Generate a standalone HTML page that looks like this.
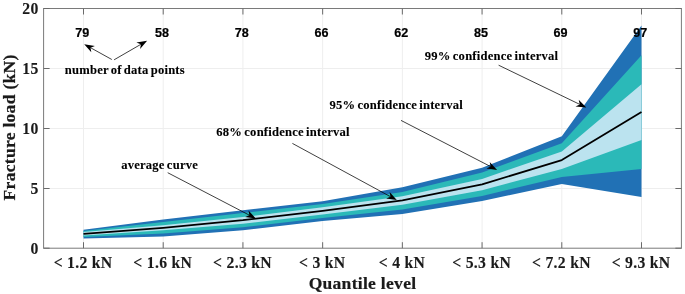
<!DOCTYPE html>
<html><head><meta charset="utf-8"><title>Fracture load chart</title>
<style>html,body{margin:0;padding:0;background:#fff}svg{display:block}</style></head>
<body>
<svg width="685" height="294" viewBox="0 0 685 294">
<rect width="685" height="294" fill="#fff"/>
<line x1="83.5" y1="8.5" x2="83.5" y2="248.2" stroke="#eeeeee" stroke-width="1"/>
<line x1="163.214" y1="8.5" x2="163.214" y2="248.2" stroke="#eeeeee" stroke-width="1"/>
<line x1="242.928" y1="8.5" x2="242.928" y2="248.2" stroke="#eeeeee" stroke-width="1"/>
<line x1="322.642" y1="8.5" x2="322.642" y2="248.2" stroke="#eeeeee" stroke-width="1"/>
<line x1="402.356" y1="8.5" x2="402.356" y2="248.2" stroke="#eeeeee" stroke-width="1"/>
<line x1="482.07" y1="8.5" x2="482.07" y2="248.2" stroke="#eeeeee" stroke-width="1"/>
<line x1="561.784" y1="8.5" x2="561.784" y2="248.2" stroke="#eeeeee" stroke-width="1"/>
<line x1="641.498" y1="8.5" x2="641.498" y2="248.2" stroke="#eeeeee" stroke-width="1"/>
<line x1="43.6" y1="68.5" x2="681.4" y2="68.5" stroke="#eeeeee" stroke-width="1"/>
<line x1="43.6" y1="128.5" x2="681.4" y2="128.5" stroke="#eeeeee" stroke-width="1"/>
<line x1="43.6" y1="188.5" x2="681.4" y2="188.5" stroke="#eeeeee" stroke-width="1"/>
<polygon points="83.5,229.7 163.2,219.4 242.9,210.3 322.6,201.2 402.4,187.3 482.1,167.7 561.8,136.2 641.5,25.6 641.5,197.0 561.8,183.9 482.1,201.1 402.4,214.0 322.6,221.0 242.9,230.3 163.2,236.4 83.5,238.4" fill="#2171b5"/>
<polygon points="83.5,230.9 163.2,222.0 242.9,213.1 322.6,204.1 402.4,192.0 482.1,172.6 561.8,143.2 641.5,55.3 641.5,169.0 561.8,177.0 482.1,195.9 402.4,209.4 322.6,217.9 242.9,227.3 163.2,233.6 83.5,237.0" fill="#2bb9b8"/>
<polygon points="83.5,232.1 163.2,225.2 242.9,217.0 322.6,207.3 402.4,196.3 482.1,178.9 561.8,151.5 641.5,84.3 641.5,140.0 561.8,168.9 482.1,190.2 402.4,204.8 322.6,214.5 242.9,223.8 163.2,230.3 83.5,235.4" fill="#bbe3ef"/>
<polyline points="83.5,233.9 163.2,227.8 242.9,220.2 322.6,210.8 402.4,200.3 482.1,184.4 561.8,160.1 641.5,112.0" fill="none" stroke="#000" stroke-width="1.75" stroke-linejoin="round"/>
<rect x="43.6" y="8.5" width="637.8" height="239.7" fill="none" stroke="#7a7a7a" stroke-width="1"/>
<line x1="83.5" y1="248.2" x2="83.5" y2="242.2" stroke="#6a6a6a" stroke-width="1"/>
<line x1="83.5" y1="8.5" x2="83.5" y2="14.5" stroke="#6a6a6a" stroke-width="1"/>
<line x1="163.214" y1="248.2" x2="163.214" y2="242.2" stroke="#6a6a6a" stroke-width="1"/>
<line x1="163.214" y1="8.5" x2="163.214" y2="14.5" stroke="#6a6a6a" stroke-width="1"/>
<line x1="242.928" y1="248.2" x2="242.928" y2="242.2" stroke="#6a6a6a" stroke-width="1"/>
<line x1="242.928" y1="8.5" x2="242.928" y2="14.5" stroke="#6a6a6a" stroke-width="1"/>
<line x1="322.642" y1="248.2" x2="322.642" y2="242.2" stroke="#6a6a6a" stroke-width="1"/>
<line x1="322.642" y1="8.5" x2="322.642" y2="14.5" stroke="#6a6a6a" stroke-width="1"/>
<line x1="402.356" y1="248.2" x2="402.356" y2="242.2" stroke="#6a6a6a" stroke-width="1"/>
<line x1="402.356" y1="8.5" x2="402.356" y2="14.5" stroke="#6a6a6a" stroke-width="1"/>
<line x1="482.07" y1="248.2" x2="482.07" y2="242.2" stroke="#6a6a6a" stroke-width="1"/>
<line x1="482.07" y1="8.5" x2="482.07" y2="14.5" stroke="#6a6a6a" stroke-width="1"/>
<line x1="561.784" y1="248.2" x2="561.784" y2="242.2" stroke="#6a6a6a" stroke-width="1"/>
<line x1="561.784" y1="8.5" x2="561.784" y2="14.5" stroke="#6a6a6a" stroke-width="1"/>
<line x1="641.498" y1="248.2" x2="641.498" y2="242.2" stroke="#6a6a6a" stroke-width="1"/>
<line x1="641.498" y1="8.5" x2="641.498" y2="14.5" stroke="#6a6a6a" stroke-width="1"/>
<line x1="43.6" y1="8.5" x2="49.6" y2="8.5" stroke="#6a6a6a" stroke-width="1"/>
<line x1="681.4" y1="8.5" x2="675.4" y2="8.5" stroke="#6a6a6a" stroke-width="1"/>
<line x1="43.6" y1="68.5" x2="49.6" y2="68.5" stroke="#6a6a6a" stroke-width="1"/>
<line x1="681.4" y1="68.5" x2="675.4" y2="68.5" stroke="#6a6a6a" stroke-width="1"/>
<line x1="43.6" y1="128.5" x2="49.6" y2="128.5" stroke="#6a6a6a" stroke-width="1"/>
<line x1="681.4" y1="128.5" x2="675.4" y2="128.5" stroke="#6a6a6a" stroke-width="1"/>
<line x1="43.6" y1="188.5" x2="49.6" y2="188.5" stroke="#6a6a6a" stroke-width="1"/>
<line x1="681.4" y1="188.5" x2="675.4" y2="188.5" stroke="#6a6a6a" stroke-width="1"/>
<line x1="43.6" y1="248.2" x2="49.6" y2="248.2" stroke="#6a6a6a" stroke-width="1"/>
<line x1="681.4" y1="248.2" x2="675.4" y2="248.2" stroke="#6a6a6a" stroke-width="1"/>
<text x="38.6" y="14" font-size="15.7" text-anchor="end" font-family="Liberation Serif, serif" font-weight="bold" fill="#1a1a1a" letter-spacing="0.3" stroke="#1a1a1a" stroke-width="0.1">20</text>
<text x="38.6" y="74" font-size="15.7" text-anchor="end" font-family="Liberation Serif, serif" font-weight="bold" fill="#1a1a1a" letter-spacing="0.3" stroke="#1a1a1a" stroke-width="0.1">15</text>
<text x="38.6" y="134" font-size="15.7" text-anchor="end" font-family="Liberation Serif, serif" font-weight="bold" fill="#1a1a1a" letter-spacing="0.3" stroke="#1a1a1a" stroke-width="0.1">10</text>
<text x="38.6" y="194" font-size="15.7" text-anchor="end" font-family="Liberation Serif, serif" font-weight="bold" fill="#1a1a1a" letter-spacing="0.3" stroke="#1a1a1a" stroke-width="0.1">5</text>
<text x="38.6" y="254" font-size="15.7" text-anchor="end" font-family="Liberation Serif, serif" font-weight="bold" fill="#1a1a1a" letter-spacing="0.3" stroke="#1a1a1a" stroke-width="0.1">0</text>
<text x="83.1" y="268" font-size="15.7" text-anchor="middle" font-family="Liberation Serif, serif" font-weight="bold" fill="#1a1a1a" letter-spacing="0.3" stroke="#1a1a1a" stroke-width="0.1">&lt; 1.2 kN</text>
<text x="162.8" y="268" font-size="15.7" text-anchor="middle" font-family="Liberation Serif, serif" font-weight="bold" fill="#1a1a1a" letter-spacing="0.3" stroke="#1a1a1a" stroke-width="0.1">&lt; 1.6 kN</text>
<text x="242.5" y="268" font-size="15.7" text-anchor="middle" font-family="Liberation Serif, serif" font-weight="bold" fill="#1a1a1a" letter-spacing="0.3" stroke="#1a1a1a" stroke-width="0.1">&lt; 2.3 kN</text>
<text x="322.2" y="268" font-size="15.7" text-anchor="middle" font-family="Liberation Serif, serif" font-weight="bold" fill="#1a1a1a" letter-spacing="0.3" stroke="#1a1a1a" stroke-width="0.1">&lt; 3 kN</text>
<text x="402.0" y="268" font-size="15.7" text-anchor="middle" font-family="Liberation Serif, serif" font-weight="bold" fill="#1a1a1a" letter-spacing="0.3" stroke="#1a1a1a" stroke-width="0.1">&lt; 4 kN</text>
<text x="481.7" y="268" font-size="15.7" text-anchor="middle" font-family="Liberation Serif, serif" font-weight="bold" fill="#1a1a1a" letter-spacing="0.3" stroke="#1a1a1a" stroke-width="0.1">&lt; 5.3 kN</text>
<text x="561.4" y="268" font-size="15.7" text-anchor="middle" font-family="Liberation Serif, serif" font-weight="bold" fill="#1a1a1a" letter-spacing="0.3" stroke="#1a1a1a" stroke-width="0.1">&lt; 7.2 kN</text>
<text x="641.1" y="268" font-size="15.7" text-anchor="middle" font-family="Liberation Serif, serif" font-weight="bold" fill="#1a1a1a" letter-spacing="0.3" stroke="#1a1a1a" stroke-width="0.1">&lt; 9.3 kN</text>
<text x="362.5" y="288.6" font-size="17.5" text-anchor="middle" font-family="Liberation Serif, serif" font-weight="bold" fill="#1a1a1a" letter-spacing="0.3" stroke="#1a1a1a" stroke-width="0.22">Quantile level</text>
<text transform="translate(14.8,127.4) rotate(-90)" font-size="17.5" text-anchor="middle" font-family="Liberation Serif, serif" font-weight="bold" fill="#1a1a1a" letter-spacing="0.3" stroke="#1a1a1a" stroke-width="0.22">Fracture load (kN)</text>
<text x="82.3" y="37.2" font-size="12.6" text-anchor="middle" font-family="Liberation Sans, sans-serif" font-weight="bold" fill="#000" stroke="#000" stroke-width="0.2">79</text>
<text x="162.0" y="37.2" font-size="12.6" text-anchor="middle" font-family="Liberation Sans, sans-serif" font-weight="bold" fill="#000" stroke="#000" stroke-width="0.2">58</text>
<text x="241.7" y="37.2" font-size="12.6" text-anchor="middle" font-family="Liberation Sans, sans-serif" font-weight="bold" fill="#000" stroke="#000" stroke-width="0.2">78</text>
<text x="321.4" y="37.2" font-size="12.6" text-anchor="middle" font-family="Liberation Sans, sans-serif" font-weight="bold" fill="#000" stroke="#000" stroke-width="0.2">66</text>
<text x="401.2" y="37.2" font-size="12.6" text-anchor="middle" font-family="Liberation Sans, sans-serif" font-weight="bold" fill="#000" stroke="#000" stroke-width="0.2">62</text>
<text x="480.9" y="37.2" font-size="12.6" text-anchor="middle" font-family="Liberation Sans, sans-serif" font-weight="bold" fill="#000" stroke="#000" stroke-width="0.2">85</text>
<text x="560.6" y="37.2" font-size="12.6" text-anchor="middle" font-family="Liberation Sans, sans-serif" font-weight="bold" fill="#000" stroke="#000" stroke-width="0.2">69</text>
<text x="640.3" y="37.2" font-size="12.6" text-anchor="middle" font-family="Liberation Sans, sans-serif" font-weight="bold" fill="#000" stroke="#000" stroke-width="0.2">97</text>
<text x="64.8" y="73.6" font-size="12.6" font-family="Liberation Serif, serif" font-weight="bold" fill="#000" stroke="#000" stroke-width="0.1" letter-spacing="0.22" word-spacing="-1.2">number of data points</text>
<text x="121.2" y="168.7" font-size="12.6" font-family="Liberation Serif, serif" font-weight="bold" fill="#000" stroke="#000" stroke-width="0.1" letter-spacing="0.22" word-spacing="-1.2">average curve</text>
<text x="216.3" y="135.5" font-size="12.6" font-family="Liberation Serif, serif" font-weight="bold" fill="#000" stroke="#000" stroke-width="0.1" letter-spacing="0.22" word-spacing="-1.2">68% confidence interval</text>
<text x="329.5" y="109" font-size="12.6" font-family="Liberation Serif, serif" font-weight="bold" fill="#000" stroke="#000" stroke-width="0.1" letter-spacing="0.22" word-spacing="-1.2">95% confidence interval</text>
<text x="424.8" y="60" font-size="12.6" font-family="Liberation Serif, serif" font-weight="bold" fill="#000" stroke="#000" stroke-width="0.1" letter-spacing="0.22" word-spacing="-1.2">99% confidence interval</text>
<line x1="111.8" y1="59.5" x2="90.5" y2="47.7" stroke="#000" stroke-width="0.75"/><polygon points="84.2,44.2 94.9,45.9 90.5,47.7 91.3,52.3" fill="#000"/>
<line x1="114.1" y1="59.8" x2="140.9" y2="44.3" stroke="#000" stroke-width="0.75"/><polygon points="147.1,40.8 140.1,49.1 140.9,44.3 136.4,42.6" fill="#000"/>
<line x1="167.7" y1="172.7" x2="249.4" y2="215.2" stroke="#000" stroke-width="0.75"/><polygon points="255.8,218.5 245.1,217.1 249.4,215.2 248.5,210.5" fill="#000"/>
<line x1="292.4" y1="143.4" x2="390.5" y2="196.7" stroke="#000" stroke-width="0.75"/><polygon points="396.8,200.1 386.1,198.5 390.5,196.7 389.6,192.0" fill="#000"/>
<line x1="401.0" y1="120.4" x2="490.7" y2="166.6" stroke="#000" stroke-width="0.75"/><polygon points="497.1,169.9 486.4,168.5 490.7,166.6 489.7,162.0" fill="#000"/>
<line x1="498.6" y1="65.2" x2="579.8" y2="104.4" stroke="#000" stroke-width="0.75"/><polygon points="586.3,107.5 575.5,106.4 579.8,104.4 578.7,99.7" fill="#000"/>
</svg>
</body></html>
